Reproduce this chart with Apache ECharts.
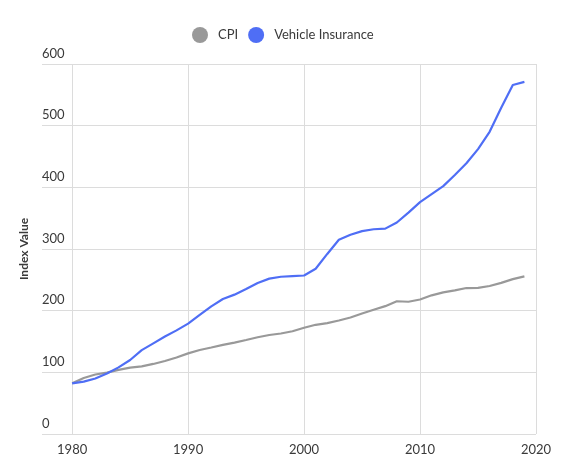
<!DOCTYPE html>
<html>
<head>
<meta charset="utf-8">
<script src="https://cdn.jsdelivr.net/npm/echarts@6/dist/echarts.min.js"></script>
<style>
  html, body { margin: 0; padding: 0; background: #fff; }
  #chart { width: 565px; height: 476px; }
</style>
</head>
<body>
<div id="chart"></div>
<script>
// values
var years = [1980, 1981, 1982, 1983, 1984, 1985, 1986, 1987, 1988, 1989,
  1990, 1991, 1992, 1993, 1994, 1995, 1996, 1997, 1998, 1999,
  2000, 2001, 2002, 2003, 2004, 2005, 2006, 2007, 2008, 2009,
  2010, 2011, 2012, 2013, 2014, 2015, 2016, 2017, 2018, 2019]
var cpi = [82.4, 90.9, 96.5, 99.6, 103.9, 107.6, 109.6, 113.6, 118.3, 124.0,
  130.7, 136.2, 140.3, 144.5, 148.2, 152.4, 156.9, 160.5, 163.0, 166.6,
  172.2, 177.1, 179.9, 184.0, 188.9, 195.3, 201.6, 207.3, 215.3, 214.5,
  218.1, 224.9, 229.6, 233.0, 236.7, 237.0, 240.0, 245.1, 251.1, 255.7]
var vehicleInsurance = [82, 85, 90, 98, 108, 120, 136, 147, 158, 168,
  179, 193, 207, 219, 226, 235, 245, 252, 255, 256,
  257, 268, 292, 315, 323, 329, 332, 333, 343, 359,
  376, 389, 402, 420, 439, 462, 490, 529, 566, 571]
var xTicks = [1980, 1990, 2000, 2010, 2020]

var font = 'Lato, "Open Sans", sans-serif'
var textColor = '#3a3a3a'

function pairs(vals) {
  return years.map(function (y, i) { return [y, vals[i]] })
}

var chart = echarts.init(document.getElementById('chart'))
chart.setOption({
  animation: false,
  textStyle: { fontFamily: font },
  legend: {
    left: 187,
    top: 22,
    icon: 'circle',
    itemWidth: 16,
    itemHeight: 16,
    itemGap: 10,
    textStyle: { fontSize: 13, color: textColor, fontFamily: font, padding: [0, 0, 0, 5] },
    data: ['CPI', 'Vehicle Insurance']
  },
  grid: { left: 42, right: 29, top: 64, bottom: 42 },
  xAxis: {
    type: 'value',
    min: 1977.4,
    max: 2020,
    axisLine: { show: false },
    axisTick: { show: false, customValues: xTicks },
    axisLabel: {
      customValues: xTicks,
      formatter: function (v) { return String(v) },
      margin: 9,
      fontSize: 13,
      color: textColor,
      fontFamily: font
    },
    splitLine: { show: true, lineStyle: { color: '#dcdcdc', width: 1 } }
  },
  yAxis: {
    type: 'value',
    min: 0,
    max: 600,
    interval: 100,
    name: 'Index Value',
    nameLocation: 'middle',
    nameGap: 12,
    nameTextStyle: { fontSize: 12, color: textColor, fontFamily: font, fontWeight: 'bold' },
    axisLine: { show: false },
    axisTick: { show: false },
    axisLabel: {
      inside: true,
      margin: 0,
      verticalAlign: 'bottom',
      padding: [0, 0, 4, 0],
      fontSize: 13,
      color: textColor,
      fontFamily: font
    },
    splitLine: { lineStyle: { color: '#dcdcdc', width: 1 } }
  },
  series: [
    {
      name: 'CPI',
      type: 'line',
      data: pairs(cpi),
      symbol: 'none',
      lineStyle: { color: '#999999', width: 2.2 },
      itemStyle: { color: '#999999' }
    },
    {
      name: 'Vehicle Insurance',
      type: 'line',
      data: pairs(vehicleInsurance),
      symbol: 'none',
      lineStyle: { color: '#4f6ef5', width: 2.2 },
      itemStyle: { color: '#4f6ef5' }
    }
  ]
})
window.addEventListener('resize', chart.resize)
</script>
</body>
</html>
